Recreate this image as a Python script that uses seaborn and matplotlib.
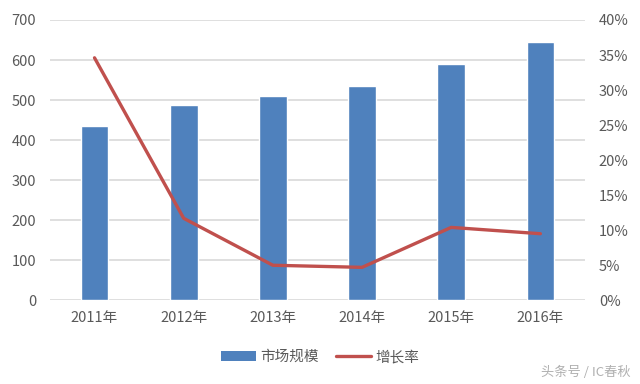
import numpy as np
import matplotlib
matplotlib.use("Agg")
import matplotlib.pyplot as plt
import seaborn as sns
import pandas as pd
from matplotlib.ticker import PercentFormatter
from matplotlib.patches import Patch
from matplotlib.lines import Line2D

# data
years = ["2011年", "2012年", "2013年", "2014年", "2015年", "2016年"]
market_size = [436, 487, 510, 536, 591, 646]
growth_rate = [34.6, 11.7, 5.0, 4.7, 10.4, 9.5]   # percent

df = pd.DataFrame({"year": years, "size": market_size, "rate": growth_rate})

sns.set_theme(style="white")
plt.rcParams["font.family"] = ["Noto Sans CJK SC", "DejaVu Sans"]

bar_color = "#4F81BD"
line_color = "#C0504D"
text_color = "#595959"
grid_color = "#D9D9D9"

fig = plt.figure(figsize=(6.4, 3.84), dpi=100)
ax = fig.add_axes([0.078, 0.218, 0.836, 0.73])

sns.barplot(data=df, x="year", y="size", color=bar_color, width=0.31,
            saturation=1, ax=ax, zorder=2)
ax.set_ylim(0, 700)
ax.set_yticks(range(0, 701, 100))
ax.set_xlim(-0.5, len(years) - 0.5)
ax.yaxis.grid(True, color=grid_color, linewidth=1.2, zorder=0)
ax.set_axisbelow(True)
ax.set_xlabel("")
ax.set_ylabel("")
for s in ax.spines.values():
    s.set_visible(False)
ax.tick_params(axis="both", length=0, colors=text_color, labelsize=10.5)
ax.tick_params(axis="x", pad=8)
ax.tick_params(axis="y", pad=10)

ax2 = ax.twinx()
sns.lineplot(x=np.arange(len(years)), y=df["rate"], color=line_color,
             linewidth=2.4, ax=ax2)
ax2.set_ylim(0, 40)
ax2.set_yticks(range(0, 41, 5))
ax2.yaxis.set_major_formatter(PercentFormatter(decimals=0))
ax2.set_ylabel("")
for s in ax2.spines.values():
    s.set_visible(False)
ax2.tick_params(axis="y", length=0, colors=text_color, labelsize=10.5, pad=10)

handles = [Patch(facecolor=bar_color, edgecolor="none"),
           Line2D([0], [0], color=line_color, linewidth=2.4)]
fig.legend(handles, ["市场规模", "增长率"], loc="center", ncol=2,
           bbox_to_anchor=(0.5, 0.07), frameon=False, fontsize=10.5,
           labelcolor=text_color, handlelength=2.4, handleheight=0.6,
           handletextpad=0.3, columnspacing=1.2)

fig.text(0.985, 0.03, "头条号 / IC春秋", ha="right", va="center",
         fontsize=9.5, color="#B0B0B0")

fig.savefig("out.png", dpi=100)
